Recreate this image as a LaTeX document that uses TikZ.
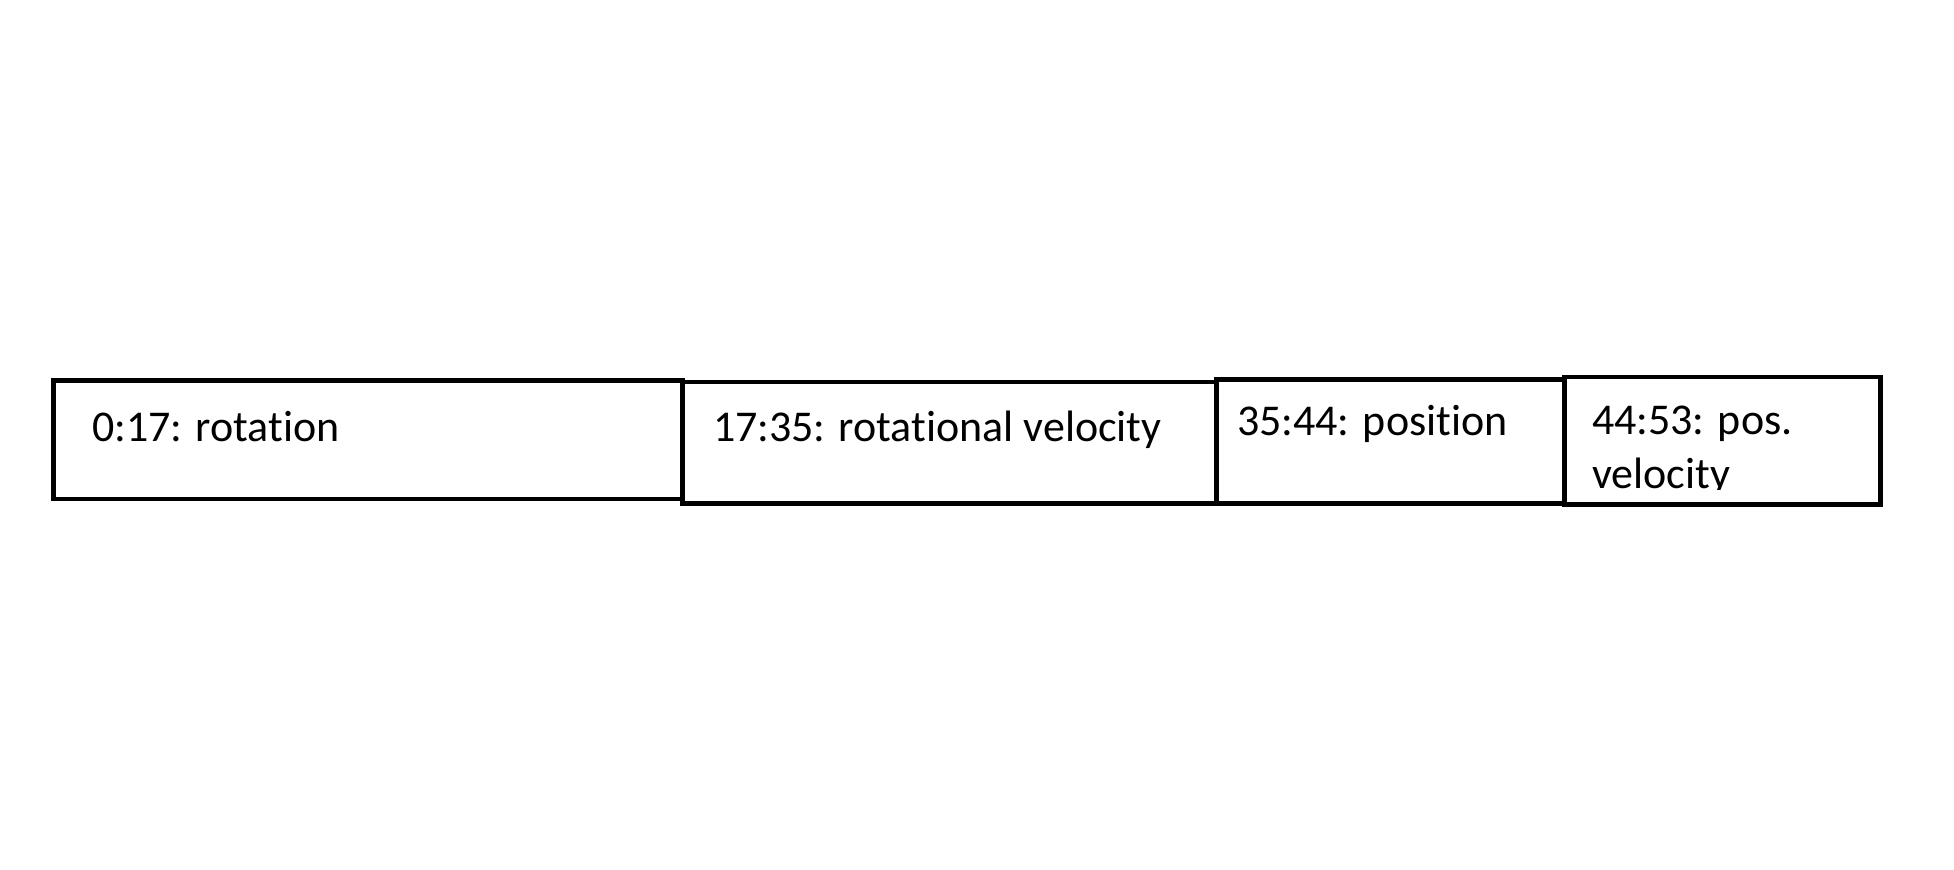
\documentclass[tikz,border=0pt]{standalone}
\usepackage{fontspec}
\setmainfont{Carlito}[Ligatures=NoCommon]
\begin{document}
\begin{tikzpicture}[x=0.01cm,y=-0.01cm]
\tikzset{
  cell/.style={draw=black,line width=1.34pt,inner sep=0pt,outer sep=0pt,anchor=north west},
  lbl/.style={anchor=base west,inner sep=0pt,outer sep=0pt,text=black,font=\fontsize{12.5}{15.4}\selectfont}
}
\useasboundingbox[fill=white] (0,0) rectangle (1954,870);
% boxes
\node[cell,minimum width=6.29cm,minimum height=1.185cm] (b1) at (53.5,380.5) {};
\node[cell,minimum width=5.34cm,minimum height=1.215cm] (b2) at (682.5,382) {};
\node[cell,minimum width=3.48cm,minimum height=1.24cm] (b3) at (1216.5,379.5) {};
\node[cell,minimum width=3.16cm,minimum height=1.275cm] (b4) at (1564.5,377) {};
% labels
\node[lbl] (t1) at (92,441) {0:17: rotation};
\node[lbl] (t2) at (713,441) {17:35: rotational velocity};
\node[lbl] (t3) at (1237,435) {35:44: position};
\begin{scope}
\clip (1564.5,377) rectangle (1880.5,489);
\node[lbl] (t4) at (1592,434) {\begin{tabular}[t]{@{}l@{}}44:53: pos.\\velocity\end{tabular}};
\end{scope}
\end{tikzpicture}
\end{document}
